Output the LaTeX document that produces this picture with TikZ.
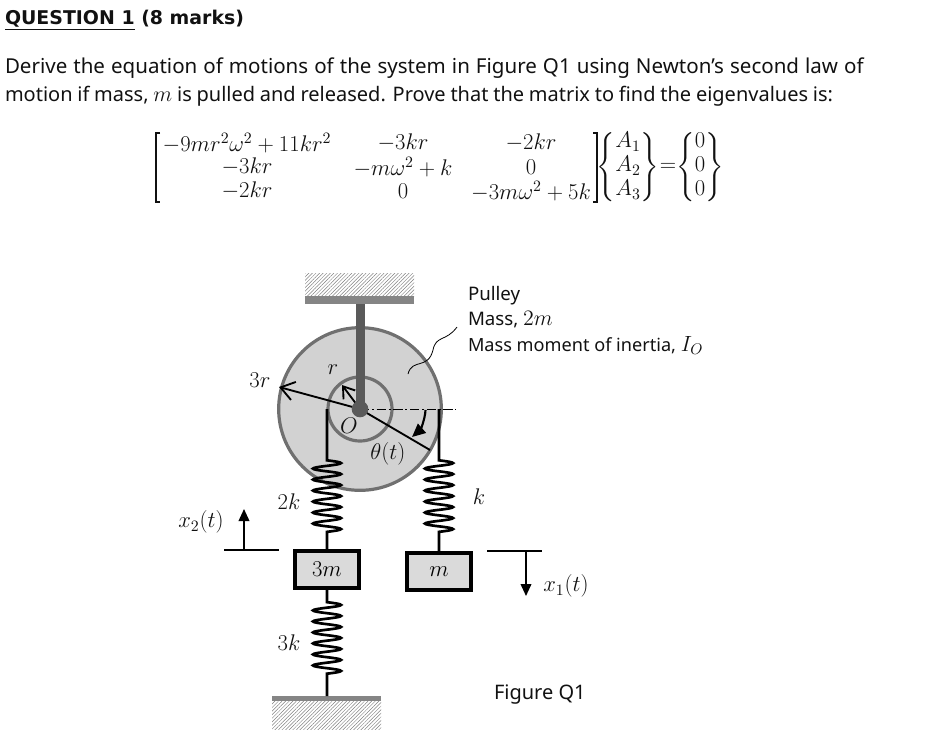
\RequirePackage{fix-cm}
\documentclass[tikz,border=0pt]{standalone}
\usepackage{amsmath}
\usepackage{fontspec}
\setmainfont{Noto Sans}
\newfontfamily\titlefam{DejaVu Sans Bold}
\usetikzlibrary{arrows.meta,patterns.meta,decorations.pathmorphing}
\definecolor{pulleyfill}{HTML}{D2D2D2}
\definecolor{pulleyline}{HTML}{707070}
\definecolor{roddark}{HTML}{5A5A5A}
\definecolor{barcol}{HTML}{858585}
\definecolor{boxfill}{HTML}{DADADA}
\definecolor{inkcol}{HTML}{111111}
\newcommand{\mbig}[1]{{\fontsize{16.5}{18}\selectfont$#1$}}
\tikzset{
  body/.style={anchor=base west,inner sep=0pt,outer sep=0pt,text=inkcol,font=\fontsize{15.4}{18}\selectfont},
  mth/.style={inner sep=0pt,outer sep=0pt,text=inkcol,font=\fontsize{17}{18}\selectfont},
  mass/.style={draw=black,line width=3pt,fill=boxfill,inner sep=0pt,minimum width=48pt,minimum height=28pt,font=\fontsize{17}{18}\selectfont},
  coilline/.style={draw=black,line width=2pt,decorate,decoration={coil,aspect=0,amplitude=10.5pt,segment length=8.25pt}},
  hatchzone/.style={pattern={Lines[angle=45,distance=1.9pt,line width=.35pt]},pattern color=black!50},
  bar/.style={fill=barcol},
  thin arrow/.style={draw=black,line width=1.4pt},
  disp/.style={draw=black,line width=1.2pt,-{Triangle[length=9pt,width=8pt]}},
  brk/.style={draw=inkcol,line width=.8pt},
}
\begin{document}
\begin{tikzpicture}[x=.75pt,y=-.75pt]
\useasboundingbox (0,0) rectangle (934,736);
% text
\node[body,font=\fontsize{14.2}{18}\selectfont\titlefam] (title) at (5,24) {\underline{QUESTION 1} (8 marks)};
\node[body] (lineone) at (5,73) {\makebox[644pt][s]{Derive the equation of motions of the system in Figure Q1 using Newton’s second law of}};
\node[body,font=\fontsize{15}{18}\selectfont] (linetwo) at (5,101) {\makebox[621pt][s]{motion if mass, \mbig{m} is pulled and released. Prove that the matrix to find the eigenvalues is:}};
% matrix
\foreach \nm/\px/\py/\tx in {
 a/247/143/{-9mr^2\omega^2+11kr^2}, b/403/143/{-3kr}, c/531/143/{-2kr},
 d/247/167/{-3kr}, e/403/167/{-m\omega^2+k}, f/531/167/{0},
 g/247/191/{-2kr}, h/403/191/{0}, i/531/191/{-3m\omega^2+5k}}
 {\node[mth] (\nm) at (\px,\py) {$\tx$};}
\draw[brk] (160,133) -- (156,133) -- (156,202) -- (160,202);
\draw[brk] (593,133) -- (597,133) -- (597,202) -- (593,202);
\node[mth] (vecA) at (628,167) {$\left\{\begin{matrix}A_1\\ A_2\\ A_3\end{matrix}\right\}$};
\node[mth] (eqs) at (668,167) {$=$};
\node[mth] (vecZ) at (700,167) {$\left\{\begin{matrix}0\\ 0\\ 0\end{matrix}\right\}$};
% ceiling
\fill[hatchzone] (305,273) rectangle (414,296);
\fill[bar] (305,296) rectangle (414,304);
% pulley
\coordinate (hub) at (360,409);
\coordinate (cableL) at (327,409);
\coordinate (cableR) at (439,409);
\node[circle,draw=pulleyline,fill=pulleyfill,line width=2.4pt,minimum size=122pt,inner sep=0pt] (disc) at (hub) {};
\node[circle,draw=pulleyline,line width=2.4pt,minimum size=48pt,inner sep=0pt] (inner) at (hub) {};
\fill[roddark] (356,304) rectangle (365,409);
% masses
\node[mass] (m3) at (327,569.5) {$3m$};
\node[mass] (m1) at (439,571.5) {$m$};
\coordinate (ground) at (327,696);
% ground
\fill[bar] (272,696) rectangle (381,701);
\fill[hatchzone] (272,701) rectangle (381,729);
% springs
\draw[coilline,decoration={pre length=38.5pt,post length=8pt}] (cableL) -- (m3.north);
\draw[coilline,decoration={pre length=38.5pt,post length=8pt}] (cableR) -- (m1.north);
\draw[coilline,decoration={pre length=9pt,post length=11pt}] (m3.south) -- (ground);
% radii
\coordinate (rthree) at (279,387);
\coordinate (rone) at (342,385);
\coordinate (thetaEnd) at (430,450);
\draw[thin arrow,-{Straight Barb[length=10pt,width=14pt]}] (hub) -- (rthree);
\draw[thin arrow,-{Straight Barb[length=8pt,width=11pt]}] (hub) -- (rone);
\draw[draw=black,line width=1.4pt] (hub) -- (thetaEnd);
\coordinate (dashEnd) at (456,409);
\draw[draw=black,line width=.55pt,dash pattern=on 7pt off 2pt on 1.5pt off 2pt] (hub) -- (dashEnd);
\coordinate (arcA) at (425.5,410);
\coordinate (arcB) at (412,437);
\draw[draw=black,line width=1.6pt,-{Triangle[length=10pt,width=9pt]}] (arcA) .. controls (425,420) and (420,430) .. (arcB);
\node[circle,fill=roddark,minimum size=12.5pt,inner sep=0pt] (hubdot) at (hub) {};
% leader
\coordinate (leadA) at (408,374);
\coordinate (leadB) at (457,327);
\draw[draw=black,line width=.6pt] (leadA) .. controls (412,358) and (428,370) .. (433,350) .. controls (436,335) and (446,342) .. (leadB);
% displacement marks
\coordinate (xtwoL) at (224,550); \coordinate (xtwoR) at (279,550);
\coordinate (xtwoB) at (244,550); \coordinate (xtwoT) at (244,509);
\coordinate (xoneL) at (487,551); \coordinate (xoneR) at (542,551);
\coordinate (xoneT) at (526,551); \coordinate (xoneB) at (526,596);
\draw[draw=black,line width=.8pt] (xtwoL) -- (xtwoR);
\draw[disp] (xtwoB) -- (xtwoT);
\draw[draw=black,line width=.8pt] (xoneL) -- (xoneR);
\draw[disp] (xoneT) -- (xoneB);
% labels
\node[mth] (l3r) at (260,380) {$3r$};
\node[mth] (lr) at (333,370) {$r$};
\node[mth] (lO) at (349,426) {$O$};
\node[mth] (lth) at (388,454) {$\theta(t)$};
\node[mth] (l2k) at (289,502) {$2k$};
\node[mth] (lk) at (479,497) {$k$};
\node[mth] (l3k) at (289,643) {$3k$};
\node[mth] (lx2) at (201,522) {$x_2(t)$};
\node[mth] (lx1) at (566,586) {$x_1(t)$};
\node[body,font=\fontsize{14}{17}\selectfont] (p1) at (468,300) {Pulley};
\node[body,font=\fontsize{14}{17}\selectfont] (p2) at (468,325) {Mass, \mbig{2m}};
\node[body,font=\fontsize{13.6}{17}\selectfont] (p3) at (468,351) {Mass moment of inertia, \mbig{I_O}};
\node[body,font=\fontsize{15}{18}\selectfont] (fig) at (494,699) {Figure Q1};
\end{tikzpicture}
\end{document}
